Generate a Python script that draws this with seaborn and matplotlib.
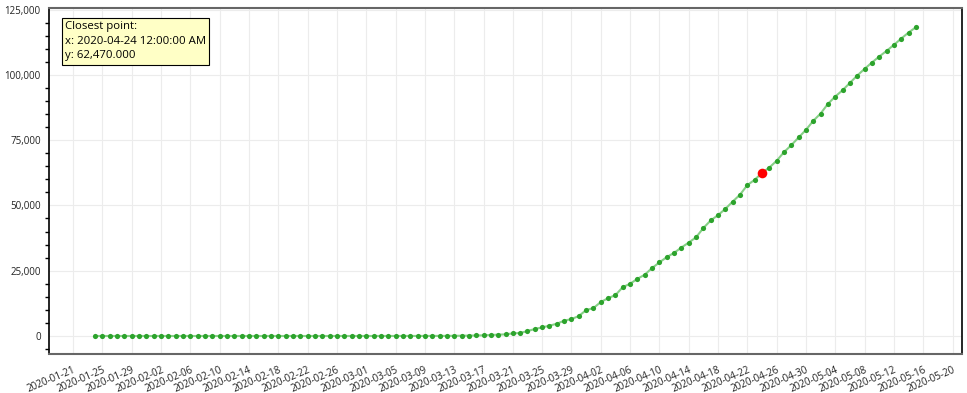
import matplotlib
matplotlib.use("Agg")
import matplotlib.pyplot as plt
import matplotlib.dates as mdates
from matplotlib.ticker import MultipleLocator, FuncFormatter
import numpy as np
import pandas as pd
import seaborn as sns

# ---- data ----
start_date = "2020-01-24"
values = (
    [0] * 37 +                                   # Jan 24 - Feb 29
    [2, 3, 5, 8, 10, 12, 15, 18, 22, 27] +        # Mar 1 - Mar 10
    [30, 50, 70, 100, 150, 200, 260, 380, 510, 640, 1000, 1150, 1900, 2670,
     3300, 3950, 4700, 5850, 6490, 7630, 9920] +  # Mar 11 - Mar 31
    [10700, 13000, 14500, 15650, 18700, 20000, 21900, 23480, 26020, 28170,
     30200, 31840, 33870, 35770, 37790, 41340, 44250, 46280, 48680, 51470,
     54120, 57790, 59800, 62470, 64500, 67100, 70400, 73090, 76020, 78950] +  # April
    [82400, 85200, 88900, 91710, 94130, 96940, 99740, 102300, 104720, 107010,
     109180, 111480, 113900, 116200, 118240]      # May 1 - May 15
)
dates = pd.date_range(start_date, periods=len(values), freq="D")
highlight_date = pd.Timestamp("2020-04-24")
highlight_value = 62470
tick_dates = pd.date_range("2020-01-21", "2020-05-20", freq="4D")
y_ticks = [0, 25000, 50000, 75000, 100000, 125000]

df = pd.DataFrame({"date": dates, "value": values})

# ---- style ----
sns.set_style("white")
plt.rcParams["font.family"] = ["Open Sans", "DejaVu Sans"]

fig = plt.figure(figsize=(9.67, 3.93), dpi=100)
ax = fig.add_axes([49 / 967, 1 - 353.5 / 393, (962 - 49) / 967, (353.5 - 8) / 393])

ax.grid(True, color="#ececec", linewidth=0.8, zorder=0)
ax.set_axisbelow(True)

sns.lineplot(data=df, x="date", y="value", color="#86d086", linewidth=1.5, ax=ax, zorder=2)
sns.scatterplot(data=df, x="date", y="value", color="#2ca32c", s=14, linewidth=0, ax=ax, zorder=3)
sns.scatterplot(x=[highlight_date], y=[highlight_value], color="#ff0000", s=48, linewidth=0, ax=ax, zorder=4)

ax.set_xlim(pd.Timestamp("2020-01-17 17:00"), pd.Timestamp("2020-05-21 07:00"))
ax.set_ylim(-6700, 125600)

ax.set_xticks(tick_dates)
ax.xaxis.set_major_formatter(mdates.DateFormatter("%Y-%m-%d"))
ax.set_yticks(y_ticks)
ax.yaxis.set_minor_locator(MultipleLocator(5000))
ax.yaxis.set_major_formatter(FuncFormatter(lambda v, p: f"{int(v):,}"))

ax.tick_params(axis="x", which="major", direction="out", length=5, width=1, color="black",
               labelsize=7.1, labelcolor="#222222", pad=3)
ax.tick_params(axis="y", which="major", direction="out", length=5, width=1, color="black",
               labelsize=7, labelcolor="#222222", pad=1)
ax.tick_params(axis="y", which="minor", direction="out", length=3, width=1, color="black", left=True)
for lab in ax.get_xticklabels():
    lab.set_rotation(23)
    lab.set_ha("right")
    lab.set_va("top")
    lab.set_rotation_mode("anchor")

ax.set_xlabel("")
ax.set_ylabel("")

for side in ["left", "right"]:
    ax.spines[side].set_color("black")
    ax.spines[side].set_linewidth(1.2)
for side in ["top", "bottom"]:
    ax.spines[side].set_color("#666666")
    ax.spines[side].set_linewidth(1.5)

tip = (f"Closest point:\nx: {highlight_date:%Y-%m-%d} 12:00:00 AM\n"
       f"y: {highlight_value:,.3f}")
ax.text(0.0175, 0.962, tip, transform=ax.transAxes, ha="left", va="top",
        fontsize=8.2, color="black", linespacing=1.45, zorder=10,
        bbox=dict(boxstyle="square,pad=0.28", facecolor="#ffffc6", edgecolor="black", linewidth=0.8))

fig.savefig("out.png", dpi=100)
